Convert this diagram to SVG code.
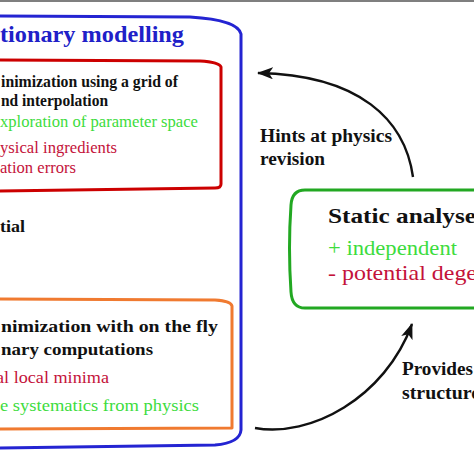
<svg xmlns="http://www.w3.org/2000/svg" width="474" height="474" viewBox="0 0 474 474">
<style>
text { font-family: "Liberation Serif", "DejaVu Serif", "Times New Roman", serif; }
.b { font-weight: bold; font-size: 16.5px; fill: #111; }
.g { font-size: 16.5px; fill: #3ddc3d; }
.r { font-size: 16.5px; fill: #c4123a; }
.lbl { font-weight: bold; font-size: 18px; fill: #111; }
.box { fill: none; stroke-width: 3; stroke-linejoin: round; }
.conn { fill: none; stroke: #111; stroke-width: 2.4; }
</style>
<defs>
<marker id="ah" markerUnits="userSpaceOnUse" viewBox="0 0 16 12" refX="15" refY="6" markerWidth="16" markerHeight="12" orient="auto">
<path d="M0,0 L16,6 L0,12 L4,6 Z" fill="#111"/>
</marker>
</defs>
<rect x="0" y="0" width="474" height="2" fill="#7f7f7f"/>
<g id="evolutionary">
<path class="box" stroke="#2424d2" d="M-5,16 L190,17 Q238,20 241,34 L241,430 Q240,443 215,445 L-5,448"/>
<text x="0" y="42" textLength="184" lengthAdjust="spacingAndGlyphs" style="font-weight:bold;font-size:23px;fill:#2020c8">tionary modelling</text>
<text x="0" y="232" textLength="25" lengthAdjust="spacingAndGlyphs" class="b">tial</text>
</g>
<g id="grid">
<path class="box" stroke="#cc0000" d="M-5,60 L200,61 Q219,62 221,67 L221,184 Q221,188 215,188 L-5,191"/>
<text class="b" x="1" y="87" textLength="177" lengthAdjust="spacingAndGlyphs">inimization using a grid of</text>
<text class="b" x="1" y="106" textLength="107" lengthAdjust="spacingAndGlyphs">nd interpolation</text>
<text class="g" x="0" y="127" textLength="198" lengthAdjust="spacingAndGlyphs">xploration of parameter space</text>
<text class="r" x="0" y="153" textLength="117" lengthAdjust="spacingAndGlyphs">ysical ingredients</text>
<text class="r" x="0" y="173" textLength="76" lengthAdjust="spacingAndGlyphs">ation errors</text>
</g>
<g id="onthefly">
<path class="box" stroke="#f07a30" stroke-width="2.5" d="M-5,299 L215,300 Q231,301 232,306 L232,428 L-5,429"/>
<text class="b" x="1" y="332" textLength="217" lengthAdjust="spacingAndGlyphs">nimization with on the fly</text>
<text class="b" x="1" y="355" textLength="152" lengthAdjust="spacingAndGlyphs">nary computations</text>
<text class="r" x="-4" y="383" textLength="113" lengthAdjust="spacingAndGlyphs">al local minima</text>
<text class="g" x="0" y="411" textLength="199" lengthAdjust="spacingAndGlyphs">e systematics from physics</text>
</g>
<g id="static">
<path class="box" stroke="#22a822" d="M480,190 L305,190 Q292,190 291,205 Q288,248 291,292 Q292,308 305,308 L480,308"/>
<text x="328" y="223" textLength="148" lengthAdjust="spacingAndGlyphs" style="font-weight:bold;font-size:22px;fill:#111">Static analyse</text>
<text x="328" y="255" textLength="129" lengthAdjust="spacingAndGlyphs" style="font-size:22px;fill:#3ddc3d">+ independent</text>
<text x="328" y="280" textLength="149" lengthAdjust="spacingAndGlyphs" style="font-size:22px;fill:#c4123a">- potential dege</text>
</g>
<g id="connectors">
<path class="conn" d="M413,177 C405,120 360,75 258,73" marker-end="url(#ah)"/>
<path class="conn" d="M255,428 C310,438 385,398 412,324" marker-end="url(#ah)"/>
<text class="lbl" x="260" y="142" textLength="132" lengthAdjust="spacingAndGlyphs">Hints at physics</text>
<text class="lbl" x="260" y="165" textLength="65" lengthAdjust="spacingAndGlyphs">revision</text>
<text class="lbl" x="402" y="375" textLength="71" lengthAdjust="spacingAndGlyphs">Provides</text>
<text class="lbl" x="402" y="399" textLength="78" lengthAdjust="spacingAndGlyphs">structure</text>
</g>
</svg>
